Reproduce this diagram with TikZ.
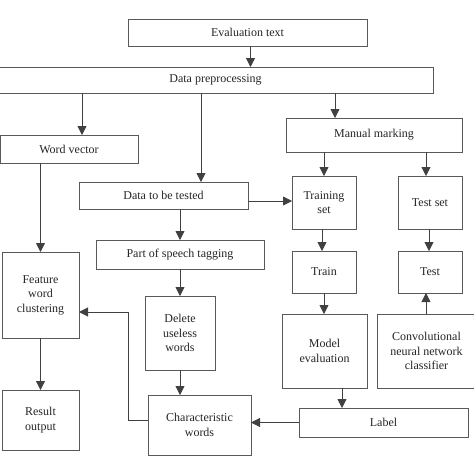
\documentclass[tikz,border=0pt]{standalone}
\usepackage{fontspec}
\setmainfont{Liberation Serif}
\usetikzlibrary{arrows.meta}
\begin{document}
\begin{tikzpicture}[x=1pt,y=-1pt,
  box/.style={draw=black!65,line width=0.8pt,inner sep=0pt,outer sep=0pt,align=center,
    text=black!85,font=\fontsize{12}{14.5}\selectfont},
  arr/.style={draw=black!75,line width=0.8pt,-{Triangle[length=9pt,width=9pt]}}]
\useasboundingbox[fill=white] (0,0) rectangle (474,474);
\node[box,minimum width=239pt,minimum height=27pt] (eval) at (247.5,32.5) {Evaluation text};
\node[box,minimum width=435pt,minimum height=26pt] (dp) at (215.5,80) {Data preprocessing};
\node[box,minimum width=138pt,minimum height=28pt] (wv) at (69,149) {Word vector};
\node[box,minimum width=176pt,minimum height=34pt] (mm) at (374,135) {Manual marking};
\node[box,minimum width=169pt,minimum height=27pt] (dtbt) at (163.5,195.5) {Data to be tested};
\node[box,minimum width=64pt,minimum height=53pt] (ts) at (324,202.5) {Training\\set};
\node[box,minimum width=64pt,minimum height=53pt] (tes) at (430,202.5) {Test set};
\node[box,minimum width=168pt,minimum height=29pt] (pos) at (180,254.5) {Part of speech tagging};
\node[box,minimum width=77pt,minimum height=86pt] (fwc) at (40.5,295) {Feature\\word\\clustering};
\node[box,minimum width=77pt,minimum height=60pt] (ro) at (40.5,420) {Result\\output};
\node[box,minimum width=70pt,minimum height=74pt] (del) at (180,333) {Delete\\useless\\words};
\node[box,minimum width=103pt,minimum height=60pt] (cw) at (199.5,425) {Characteristic\\words};
\node[box,minimum width=64pt,minimum height=42pt] (train) at (324,272) {Train};
\node[box,minimum width=64pt,minimum height=42pt] (test) at (430,272) {Test};
\node[box,minimum width=85pt,minimum height=74pt] (me) at (324.5,351) {Model\\evaluation};
\node[box,minimum width=99pt,minimum height=74pt] (cnn) at (426.5,351) {Convolutional\\neural network\\classifier};
\node[box,minimum width=169pt,minimum height=29pt] (label) at (383.5,422.5) {Label};
% connectors
\draw[arr] ([xshift=3pt]eval.south) -- ([xshift=3pt]eval.south |- dp.north);
\draw[arr] ([xshift=13pt]wv.north |- dp.south) -- ([xshift=13pt]wv.north);
\draw[arr] ([xshift=37.5pt]dtbt.north |- dp.south) -- ([xshift=37.5pt]dtbt.north);
\draw[arr] ([xshift=-39pt]mm.north |- dp.south) -- ([xshift=-39pt]mm.north);
\draw[arr] (ts.north |- mm.south) -- (ts.north);
\draw[arr] ([xshift=-4pt]tes.north |- mm.south) -- ([xshift=-4pt]tes.north);
\draw[arr] ([yshift=-5.5pt]dtbt.east) -- ([yshift=-5.5pt]dtbt.east -| ts.west);
\draw[arr] (fwc.north |- wv.south) -- (fwc.north);
\draw[arr] (pos.north |- dtbt.south) -- (pos.north);
\draw[arr] ([xshift=-2pt]train.north |- ts.south) -- ([xshift=-2pt]train.north);
\draw[arr] ([xshift=-1pt]test.north |- tes.south) -- ([xshift=-1pt]test.north);
\draw[arr] (del.north |- pos.south) -- (del.north);
\draw[arr] (del.south) -- (del.south |- cw.north);
\draw[arr] (fwc.south) -- (ro.north);
\draw[arr] (train.south) -- (train.south |- me.north);
\draw[arr] ([xshift=-4pt]test.south |- cnn.north) -- ([xshift=-4pt]test.south);
\draw[arr] ([xshift=17.5pt]me.south) -- ([xshift=17.5pt]me.south |- label.north);
\draw[arr] (label.west) -- (label.west -| cw.east);
\draw[arr] ([yshift=5pt]cw.west) -- ++(-20,0) |- ([yshift=-17pt]fwc.east);
\end{tikzpicture}
\end{document}
